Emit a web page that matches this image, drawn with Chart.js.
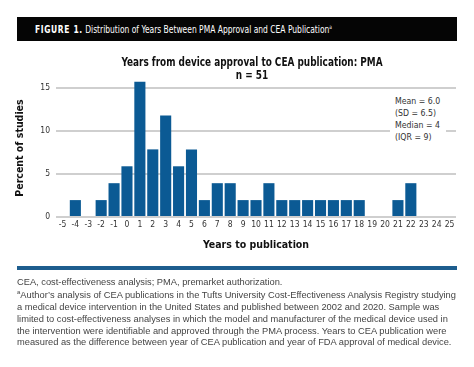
<!DOCTYPE html>
<html>
<head>
<meta charset="utf-8">
<script src="https://cdn.jsdelivr.net/npm/chart.js@4/dist/chart.umd.min.js"></script>
<style>
  body { margin: 0; width: 474px; height: 367px; background: #fff; overflow: hidden; position: relative;
         font-family: "DejaVu Sans Condensed", sans-serif; color: #222; }
  #wrap { position: absolute; left: 0; top: 0; width: 474px; height: 367px; }
  .header { position: absolute; left: 17px; top: 17px; width: 440px; height: 24px; background: #050505; }
  .header span { position: absolute; left: 18px; top: 0; color: #fff; font-size: 10.5px; line-height: 24px;
                 white-space: nowrap; transform: scaleX(0.8); transform-origin: 0 50%; }
  .header b { letter-spacing: 0.8px; }
  sup { font-size: 6px; vertical-align: 4px; line-height: 0; }
  .ctitle { position: absolute; left: 252px; white-space: nowrap; font-weight: bold; font-size: 11.5px; color: #111;
            line-height: 14px; transform: translateX(-50%) scaleX(0.86); }
  .stats { position: absolute; left: 390px; top: 96px; width: 56px; background: #fff; font-size: 8.7px;
           color: #333; line-height: 11.5px; padding-left: 5px; box-sizing: border-box; }
  .rule { position: absolute; left: 17px; top: 266px; width: 440px; height: 4px; background: #1d5d8e; }
  .notes { position: absolute; left: 17px; top: 277px; width: 445px; font-size: 9.3px; line-height: 11.8px; color: #444;
           font-family: "Liberation Sans", sans-serif; }
  .notes p { margin: 0 0 1.5px 0; }
</style>
</head>
<body>
<div id="wrap"><canvas id="chart"></canvas></div>
<div class="header"><span><b>FIGURE 1.</b> Distribution of Years Between PMA Approval and CEA Publication<sup>a</sup></span></div>
<div class="ctitle" style="top:55px">Years from device approval to CEA publication: PMA</div>
<div class="ctitle" style="top:68px">n = 51</div>
<div class="stats">Mean = 6.0<br>(SD = 6.5)<div style="height:1px"></div>Median = 4<br>(IQR = 9)</div>
<div class="rule"></div>
<div class="notes">
  <p>CEA, cost-effectiveness analysis; PMA, premarket authorization.</p>
  <p><sup>a</sup>Author’s analysis of CEA publications in the Tufts University Cost-Effectiveness Analysis Registry studying<br>
  a medical device intervention in the United States and published between 2002 and 2020. Sample was<br>
  limited to cost-effectiveness analyses in which the model and manufacturer of the medical device used in<br>
  the intervention were identifiable and approved through the PMA process. Years to CEA publication were<br>
  measured as the difference between year of CEA publication and year of FDA approval of medical device.</p>
</div>
<script>
const years = ["-5", "-4", "-3", "-2", "-1", "0", "1", "2", "3", "4", "5", "6", "7", "8", "9", "10",
  "11", "12", "13", "14", "15", "16", "17", "18", "19", "20", "21", "22", "23", "24", "25"];
// percent of 51 studies
const percentStudies = [0, 1.96, 0, 1.96, 3.92, 5.88, 15.69, 7.84, 11.76, 5.88, 7.84, 1.96, 3.92, 3.92,
  1.96, 1.96, 3.92, 1.96, 1.96, 1.96, 1.96, 1.96, 1.96, 1.96, 0, 0, 1.96, 3.92, 0, 0, 0];
const yTicks = [0, 5, 10, 15];

const font = "'DejaVu Sans Condensed', sans-serif";

new Chart(document.getElementById("chart"), {
  type: "bar",
  data: {
    labels: years,
    datasets: [{
      data: percentStudies,
      backgroundColor: "#0b5a94",
      barPercentage: 0.86,
      categoryPercentage: 1,
    }],
  },
  options: {
    responsive: true,
    maintainAspectRatio: false,
    animation: false,
    layout: { padding: { left: 14, right: 18, top: 79, bottom: 115 } },
    plugins: { legend: { display: false }, tooltip: { enabled: false } },
    scales: {
      x: {
        grid: { display: false, drawTicks: false },
        border: { display: false },
        ticks: { color: "#333", font: { family: font, size: 8.5 }, padding: 3, maxRotation: 0, autoSkip: false },
        title: { display: true, text: "Years to publication", color: "#111",
                 font: { family: font, size: 10.5, weight: "bold" }, padding: 0 },
        afterFit: (s) => { s.height = 35; },
      },
      y: {
        min: 0,
        max: 16,
        afterBuildTicks: (s) => { s.ticks = yTicks.map((v) => ({ value: v })); },
        grid: { color: "#cfcfcf", lineWidth: 2, drawTicks: false },
        border: { display: false },
        ticks: { color: "#333", font: { family: font, size: 8.5 }, padding: 6 },
        title: { display: true, text: "Percent of studies", color: "#111",
                 font: { family: font, size: 10.5, weight: "bold" }, padding: 0 },
        afterFit: (s) => { s.width = 42; },
      },
    },
  },
});
</script>
</body>
</html>
